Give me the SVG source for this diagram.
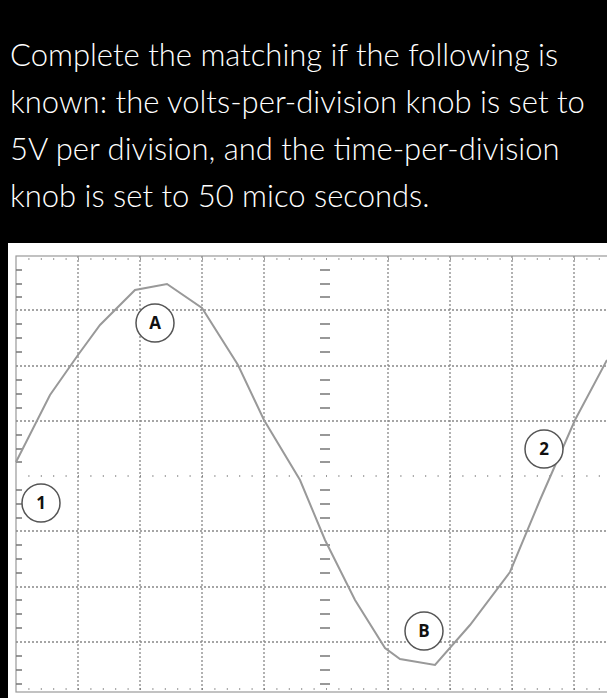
<svg xmlns="http://www.w3.org/2000/svg" width="607" height="698" viewBox="0 0 607 698">
<style>
.t{font-family:Lato,"Open Sans",sans-serif;font-size:31px;font-weight:300;fill:#fff}
.g{stroke:#888;stroke-width:1.3;stroke-dasharray:2,2;fill:none}
.lb circle{fill:#fff;stroke:#555;stroke-width:1.5}
.lb text{font-family:"Open Sans",sans-serif;font-weight:bold;font-size:17px;text-anchor:middle;fill:#111}
.tk{stroke:#777;stroke-width:1.3;fill:none}
</style>
<rect width="607" height="698" fill="#000"/>
<text class="t" x="10" y="66">Complete the matching if the following is</text>
<text class="t" x="10" y="113">known: the volts-per-division knob is set to</text>
<text class="t" x="10" y="160">5V per division, and the time-per-division</text>
<text class="t" x="10" y="207">knob is set to 50 mico seconds.</text>
<rect x="8" y="243" width="599" height="455" fill="#fff"/>
<g id="grid">
<rect x="16" y="256" width="600" height="436" fill="none" stroke="#999" stroke-width="1.2"/>
<path class="g" d="M78 256V692M140 256V692M202 256V692M264 256V692M388 256V692M450 256V692M512 256V692M574 256V692"/>
<path class="g" d="M16 310H607M16 366H607M16 421H607M16 531H607M16 587H607M16 642H607"/>
<path class="tk" stroke-dasharray="1,11.4" stroke-width="6" d="M28.4 476H607M28.4 259H607M28.4 689H607"/>
<path class="tk" d="M320 270H330M320 284H330M320 297H330M320 324H330M320 338H330M320 352H330M320 380H330M320 394H330M320 408H330M320 435H330M320 449H330M320 462H330M320 490H330M320 504H330M320 518H330M320 545H330M320 559H330M320 573H330M320 600H330M320 614H330M320 628H330M320 656H330M320 670H330M320 684H330"/>
<path class="tk" d="M16 270h6M16 284h6M16 297h6M16 324h6M16 338h6M16 352h6M16 380h6M16 394h6M16 408h6M16 435h6M16 449h6M16 462h6M16 490h6M16 504h6M16 518h6M16 545h6M16 559h6M16 573h6M16 600h6M16 614h6M16 628h6M16 656h6M16 670h6M16 684h6"/>
</g>
<g id="connectors">
<polyline fill="none" stroke="#999" stroke-width="2" points="16,462 50,395 78,355 100,325 135,290 167,284 202,308 238,365 264,420 300,480 325,540 355,600 385,648 400,659 435,665 470,625 510,572 540,500 575,420 607,360"/>
</g>
<g id="A" class="lb"><circle cx="155" cy="323" r="19"/><text x="155" y="329">A</text></g>
<g id="n1" class="lb"><circle cx="41" cy="503" r="19"/><text x="41" y="509">1</text></g>
<g id="n2" class="lb"><circle cx="544" cy="449" r="19"/><text x="544" y="455">2</text></g>
<g id="B" class="lb"><circle cx="424" cy="631" r="19"/><text x="424" y="637">B</text></g>
</svg>
